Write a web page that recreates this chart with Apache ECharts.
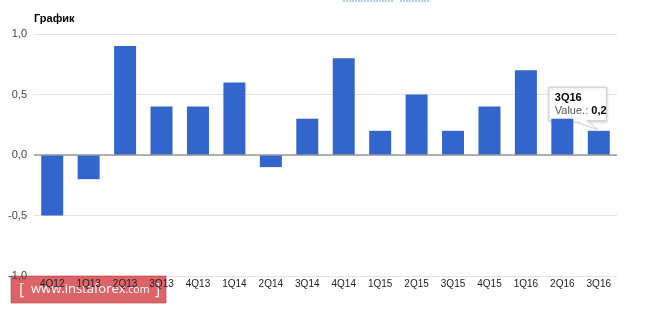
<!DOCTYPE html>
<html>
<head>
<meta charset="utf-8">
<script src="https://cdn.jsdelivr.net/npm/echarts@6/dist/echarts.min.js"></script>
<style>
html,body{margin:0;padding:0;background:#fff;}
#c{width:663px;height:312px;}
</style>
</head>
<body>
<div id="c"></div>
<script>
const categories = ['4Q12','1Q13','2Q13','3Q13','4Q13','1Q14','2Q14','3Q14','4Q14','1Q15','2Q15','3Q15','4Q15','1Q16','2Q16','3Q16'];
const values = [-0.5,-0.2,0.9,0.4,0.4,0.6,-0.1,0.3,0.8,0.2,0.5,0.2,0.4,0.7,0.3,0.2];
const yTicks = [-1, -0.5, 0, 0.5, 1];
const chartTitle = 'График';
const tipIndex = 15;

const fmt = v => v.toFixed(1).replace('.', ',');

const chart = echarts.init(document.getElementById('c'), null, {renderer:'canvas'});
chart.setOption({
  animation: false,
  backgroundColor: '#fff',
  title: {
    text: chartTitle, left: 34, top: 13, padding: 0,
    textStyle: {fontFamily:'Liberation Sans, Arial', fontSize: 11, fontWeight:'bold', color:'#000'}
  },
  grid: {left: 34, right: 46, top: 34, bottom: 36, containLabel:false},
  xAxis: {
    type: 'category', data: categories,
    axisLine: {show:false, onZero:false}, axisTick: {show:false},
    axisLabel: {margin: 3, fontSize: 10, color:'#222', fontFamily:'Liberation Sans, Arial', interval:0}
  },
  yAxis: {
    type: 'value', min: yTicks[0], max: yTicks[yTicks.length-1], interval: 0.5,
    axisLine: {show:false}, axisTick: {show:false},
    axisLabel: {margin: 7, fontSize: 11, color:'#444', fontFamily:'Liberation Sans, Arial', formatter: v => fmt(v)},
    splitLine: {lineStyle: {color:'#e2e2e2', width:1}}
  },
  series: [{
    type: 'bar', data: values, barWidth: 22,
    itemStyle: {color:'#3366cc'},
    markLine: {
      silent: true, symbol: 'none', label: {show:false},
      lineStyle: {color:'#999', width:1.5, type:'solid'},
      data: [{yAxis: 0}]
    }
  }]
});

// tooltip annotation anchored to the 3Q16 bar through the chart's scales
const p = chart.convertToPixel({seriesIndex:0}, [categories[tipIndex], values[tipIndex]]);
const px = p[0], py = p[1];
const bx = px - 50, by = py - 43.5, bw = 58, bh = 33.5;

chart.setOption({
  graphic: [
    {type:'line', shape:{x1:343,y1:1,x2:394,y2:1}, style:{stroke:'#9cc1ea', lineWidth:1.5, lineDash:[2,1]}, silent:true},
    {type:'line', shape:{x1:400,y1:1,x2:430,y2:1}, style:{stroke:'#9cc1ea', lineWidth:1.5, lineDash:[2,1]}, silent:true},
    {
      type:'group', silent:true, z: 100,
      children: [
        {type:'rect', shape:{x:bx, y:by, width:bw, height:bh},
         style:{fill:'#fff', stroke:'#cccccc', lineWidth:1, shadowBlur:3, shadowColor:'rgba(0,0,0,0.15)', shadowOffsetY:1}},
        {type:'polygon', shape:{points:[[px-27, by+bh-0.5],[px-12, by+bh-0.5],[px-1, py-1]]},
         style:{fill:'#fff', stroke:'#cccccc', lineWidth:1}},
        {type:'rect', shape:{x:px-26.5, y:by+bh-2, width:14, height:2.5}, style:{fill:'#fff'}},
        {type:'text', x: bx+6, y: by+10.5, style:{text: categories[tipIndex], font:'bold 11px "Liberation Sans", Arial', fill:'#000', verticalAlign:'middle'}},
        {type:'text', x: bx+6, y: by+23.5, style:{
          text: '{a|Value.: }{b|' + fmt(values[tipIndex]) + '}',
          verticalAlign:'middle',
          rich: {
            a: {font:'11px "Liberation Sans", Arial', fill:'#555'},
            b: {font:'bold 11px "Liberation Sans", Arial', fill:'#000'}
          }
        }}
      ]
    },
    {
      type:'group', silent:true, z: 200,
      children: [
        {type:'rect', shape:{x:11, y:276, width:155, height:27},
         style:{fill:'rgba(214,72,78,0.85)', stroke:'rgba(190,60,65,0.6)', lineWidth:1}},
        {type:'text', x:19, y:290, style:{text:'[', font:'16px "Open Sans", sans-serif', fill:'#f3f3f3', verticalAlign:'middle'}},
        {type:'text', x:31, y:289.5, style:{
          text:'{a|www.instaforex}{b|.com}', verticalAlign:'middle',
          rich:{
            a:{font:'13px "Open Sans", sans-serif', fill:'#fff'},
            b:{font:'10.5px "Open Sans", sans-serif', fill:'#fff', padding:[2,0,0,0]}
          }
        }},
        {type:'text', x:155, y:290, style:{text:']', font:'16px "Open Sans", sans-serif', fill:'#f3f3f3', verticalAlign:'middle'}}
      ]
    }
  ]
});
</script>
</body>
</html>
